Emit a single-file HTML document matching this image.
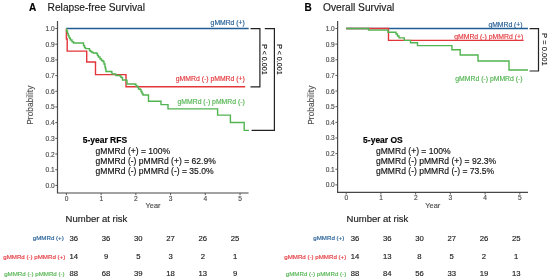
<!DOCTYPE html>
<html><head><meta charset="utf-8"><style>
html,body{margin:0;padding:0;background:#fff;}
svg{display:block;filter:blur(0.4px);}
text{font-family:"Liberation Sans", sans-serif;}
</style></head><body>
<svg width="550" height="280" viewBox="0 0 550 280">
<rect width="550" height="280" fill="#fff"/>
<text x="29.00" y="11.10" font-size="10" fill="#000" stroke="#000" stroke-width="0.15" text-anchor="start" font-weight="bold">A</text>
<text x="47.60" y="11.00" font-size="10.2" fill="#1a1a1a" stroke="#1a1a1a" stroke-width="0.15" text-anchor="start">Relapse-free Survival</text>
<path d="M57.50 21 L57.50 193.00 L248.60 193.00" fill="none" stroke="#474747" stroke-width="1.2"/>
<line x1="55.30" y1="185.40" x2="57.50" y2="185.40" stroke="#474747" stroke-width="0.9"/>
<text x="54.70" y="187.90" font-size="6.6" fill="#4d4d4d" stroke="#4d4d4d" stroke-width="0.15" text-anchor="end">0.0</text>
<line x1="55.30" y1="169.71" x2="57.50" y2="169.71" stroke="#474747" stroke-width="0.9"/>
<text x="54.70" y="172.21" font-size="6.6" fill="#4d4d4d" stroke="#4d4d4d" stroke-width="0.15" text-anchor="end">0.1</text>
<line x1="55.30" y1="154.02" x2="57.50" y2="154.02" stroke="#474747" stroke-width="0.9"/>
<text x="54.70" y="156.52" font-size="6.6" fill="#4d4d4d" stroke="#4d4d4d" stroke-width="0.15" text-anchor="end">0.2</text>
<line x1="55.30" y1="138.33" x2="57.50" y2="138.33" stroke="#474747" stroke-width="0.9"/>
<text x="54.70" y="140.83" font-size="6.6" fill="#4d4d4d" stroke="#4d4d4d" stroke-width="0.15" text-anchor="end">0.3</text>
<line x1="55.30" y1="122.64" x2="57.50" y2="122.64" stroke="#474747" stroke-width="0.9"/>
<text x="54.70" y="125.14" font-size="6.6" fill="#4d4d4d" stroke="#4d4d4d" stroke-width="0.15" text-anchor="end">0.4</text>
<line x1="55.30" y1="106.95" x2="57.50" y2="106.95" stroke="#474747" stroke-width="0.9"/>
<text x="54.70" y="109.45" font-size="6.6" fill="#4d4d4d" stroke="#4d4d4d" stroke-width="0.15" text-anchor="end">0.5</text>
<line x1="55.30" y1="91.26" x2="57.50" y2="91.26" stroke="#474747" stroke-width="0.9"/>
<text x="54.70" y="93.76" font-size="6.6" fill="#4d4d4d" stroke="#4d4d4d" stroke-width="0.15" text-anchor="end">0.6</text>
<line x1="55.30" y1="75.57" x2="57.50" y2="75.57" stroke="#474747" stroke-width="0.9"/>
<text x="54.70" y="78.07" font-size="6.6" fill="#4d4d4d" stroke="#4d4d4d" stroke-width="0.15" text-anchor="end">0.7</text>
<line x1="55.30" y1="59.88" x2="57.50" y2="59.88" stroke="#474747" stroke-width="0.9"/>
<text x="54.70" y="62.38" font-size="6.6" fill="#4d4d4d" stroke="#4d4d4d" stroke-width="0.15" text-anchor="end">0.8</text>
<line x1="55.30" y1="44.19" x2="57.50" y2="44.19" stroke="#474747" stroke-width="0.9"/>
<text x="54.70" y="46.69" font-size="6.6" fill="#4d4d4d" stroke="#4d4d4d" stroke-width="0.15" text-anchor="end">0.9</text>
<line x1="55.30" y1="28.50" x2="57.50" y2="28.50" stroke="#474747" stroke-width="0.9"/>
<text x="54.70" y="31.00" font-size="6.6" fill="#4d4d4d" stroke="#4d4d4d" stroke-width="0.15" text-anchor="end">1.0</text>
<line x1="66.40" y1="193.00" x2="66.40" y2="195.20" stroke="#474747" stroke-width="0.9"/>
<text x="66.50" y="200.60" font-size="6.6" fill="#4d4d4d" stroke="#4d4d4d" stroke-width="0.15" text-anchor="middle">0</text>
<line x1="101.12" y1="193.00" x2="101.12" y2="195.20" stroke="#474747" stroke-width="0.9"/>
<text x="101.22" y="200.60" font-size="6.6" fill="#4d4d4d" stroke="#4d4d4d" stroke-width="0.15" text-anchor="middle">1</text>
<line x1="135.84" y1="193.00" x2="135.84" y2="195.20" stroke="#474747" stroke-width="0.9"/>
<text x="135.94" y="200.60" font-size="6.6" fill="#4d4d4d" stroke="#4d4d4d" stroke-width="0.15" text-anchor="middle">2</text>
<line x1="170.56" y1="193.00" x2="170.56" y2="195.20" stroke="#474747" stroke-width="0.9"/>
<text x="170.66" y="200.60" font-size="6.6" fill="#4d4d4d" stroke="#4d4d4d" stroke-width="0.15" text-anchor="middle">3</text>
<line x1="205.28" y1="193.00" x2="205.28" y2="195.20" stroke="#474747" stroke-width="0.9"/>
<text x="205.38" y="200.60" font-size="6.6" fill="#4d4d4d" stroke="#4d4d4d" stroke-width="0.15" text-anchor="middle">4</text>
<line x1="240.00" y1="193.00" x2="240.00" y2="195.20" stroke="#474747" stroke-width="0.9"/>
<text x="240.10" y="200.60" font-size="6.6" fill="#4d4d4d" stroke="#4d4d4d" stroke-width="0.15" text-anchor="middle">5</text>
<text x="153.05" y="208.10" font-size="7.4" fill="#4d4d4d" stroke="#4d4d4d" stroke-width="0.15" text-anchor="middle">Year</text>
<text x="0" y="0" font-size="8.4" fill="#4d4d4d" stroke="#4d4d4d" stroke-width="0.12" text-anchor="middle" transform="translate(33.00 105.2) rotate(-90)">Probability</text>
<text x="82.70" y="143.00" font-size="8.5" fill="#000" stroke="#000" stroke-width="0.15" text-anchor="start" font-weight="bold">5-year RFS</text>
<text x="95.60" y="153.90" font-size="8.55" fill="#111" stroke="#111" stroke-width="0.15" text-anchor="start">gMMRd (+) = 100%</text>
<text x="95.60" y="163.90" font-size="8.55" fill="#111" stroke="#111" stroke-width="0.15" text-anchor="start">gMMRd (-) pMMRd (+) = 62.9%</text>
<text x="95.60" y="173.90" font-size="8.55" fill="#111" stroke="#111" stroke-width="0.15" text-anchor="start">gMMRd (-) pMMRd (-) = 35.0%</text>
<text x="65.60" y="222.00" font-size="9.5" fill="#1a1a1a" stroke="#1a1a1a" stroke-width="0.15" text-anchor="start">Number at risk</text>
<text x="63.70" y="240.30" font-size="6.15" fill="#215c94" stroke="#215c94" stroke-width="0.15" text-anchor="end">gMMRd (+)</text>
<text x="73.80" y="240.60" font-size="7.7" fill="#1a1a1a" stroke="#1a1a1a" stroke-width="0.15" text-anchor="middle">36</text>
<text x="106.05" y="240.60" font-size="7.7" fill="#1a1a1a" stroke="#1a1a1a" stroke-width="0.15" text-anchor="middle">36</text>
<text x="138.30" y="240.60" font-size="7.7" fill="#1a1a1a" stroke="#1a1a1a" stroke-width="0.15" text-anchor="middle">30</text>
<text x="170.55" y="240.60" font-size="7.7" fill="#1a1a1a" stroke="#1a1a1a" stroke-width="0.15" text-anchor="middle">27</text>
<text x="202.80" y="240.60" font-size="7.7" fill="#1a1a1a" stroke="#1a1a1a" stroke-width="0.15" text-anchor="middle">26</text>
<text x="235.05" y="240.60" font-size="7.7" fill="#1a1a1a" stroke="#1a1a1a" stroke-width="0.15" text-anchor="middle">25</text>
<text x="65.20" y="258.60" font-size="6.15" fill="#e2363b" stroke="#e2363b" stroke-width="0.15" text-anchor="end">gMMRd (-) pMMRd (+)</text>
<text x="73.80" y="258.60" font-size="7.7" fill="#1a1a1a" stroke="#1a1a1a" stroke-width="0.15" text-anchor="middle">14</text>
<text x="106.05" y="258.60" font-size="7.7" fill="#1a1a1a" stroke="#1a1a1a" stroke-width="0.15" text-anchor="middle">9</text>
<text x="138.30" y="258.60" font-size="7.7" fill="#1a1a1a" stroke="#1a1a1a" stroke-width="0.15" text-anchor="middle">5</text>
<text x="170.55" y="258.60" font-size="7.7" fill="#1a1a1a" stroke="#1a1a1a" stroke-width="0.15" text-anchor="middle">3</text>
<text x="202.80" y="258.60" font-size="7.7" fill="#1a1a1a" stroke="#1a1a1a" stroke-width="0.15" text-anchor="middle">2</text>
<text x="235.05" y="258.60" font-size="7.7" fill="#1a1a1a" stroke="#1a1a1a" stroke-width="0.15" text-anchor="middle">1</text>
<text x="64.60" y="275.90" font-size="6.15" fill="#52b451" stroke="#52b451" stroke-width="0.15" text-anchor="end">gMMRd (-) pMMRd (-)</text>
<text x="73.80" y="275.60" font-size="7.7" fill="#1a1a1a" stroke="#1a1a1a" stroke-width="0.15" text-anchor="middle">88</text>
<text x="106.05" y="275.60" font-size="7.7" fill="#1a1a1a" stroke="#1a1a1a" stroke-width="0.15" text-anchor="middle">68</text>
<text x="138.30" y="275.60" font-size="7.7" fill="#1a1a1a" stroke="#1a1a1a" stroke-width="0.15" text-anchor="middle">39</text>
<text x="170.55" y="275.60" font-size="7.7" fill="#1a1a1a" stroke="#1a1a1a" stroke-width="0.15" text-anchor="middle">18</text>
<text x="202.80" y="275.60" font-size="7.7" fill="#1a1a1a" stroke="#1a1a1a" stroke-width="0.15" text-anchor="middle">13</text>
<text x="235.05" y="275.60" font-size="7.7" fill="#1a1a1a" stroke="#1a1a1a" stroke-width="0.15" text-anchor="middle">9</text>
<text x="304.60" y="11.10" font-size="10" fill="#000" stroke="#000" stroke-width="0.15" text-anchor="start" font-weight="bold">B</text>
<text x="323.00" y="11.00" font-size="10.2" fill="#1a1a1a" stroke="#1a1a1a" stroke-width="0.15" text-anchor="start">Overall Survival</text>
<path d="M337.60 21 L337.60 192.30 L528.00 192.30" fill="none" stroke="#474747" stroke-width="1.2"/>
<line x1="335.40" y1="184.90" x2="337.60" y2="184.90" stroke="#474747" stroke-width="0.9"/>
<text x="334.80" y="187.40" font-size="6.6" fill="#4d4d4d" stroke="#4d4d4d" stroke-width="0.15" text-anchor="end">0.0</text>
<line x1="335.40" y1="169.26" x2="337.60" y2="169.26" stroke="#474747" stroke-width="0.9"/>
<text x="334.80" y="171.76" font-size="6.6" fill="#4d4d4d" stroke="#4d4d4d" stroke-width="0.15" text-anchor="end">0.1</text>
<line x1="335.40" y1="153.62" x2="337.60" y2="153.62" stroke="#474747" stroke-width="0.9"/>
<text x="334.80" y="156.12" font-size="6.6" fill="#4d4d4d" stroke="#4d4d4d" stroke-width="0.15" text-anchor="end">0.2</text>
<line x1="335.40" y1="137.98" x2="337.60" y2="137.98" stroke="#474747" stroke-width="0.9"/>
<text x="334.80" y="140.48" font-size="6.6" fill="#4d4d4d" stroke="#4d4d4d" stroke-width="0.15" text-anchor="end">0.3</text>
<line x1="335.40" y1="122.34" x2="337.60" y2="122.34" stroke="#474747" stroke-width="0.9"/>
<text x="334.80" y="124.84" font-size="6.6" fill="#4d4d4d" stroke="#4d4d4d" stroke-width="0.15" text-anchor="end">0.4</text>
<line x1="335.40" y1="106.70" x2="337.60" y2="106.70" stroke="#474747" stroke-width="0.9"/>
<text x="334.80" y="109.20" font-size="6.6" fill="#4d4d4d" stroke="#4d4d4d" stroke-width="0.15" text-anchor="end">0.5</text>
<line x1="335.40" y1="91.06" x2="337.60" y2="91.06" stroke="#474747" stroke-width="0.9"/>
<text x="334.80" y="93.56" font-size="6.6" fill="#4d4d4d" stroke="#4d4d4d" stroke-width="0.15" text-anchor="end">0.6</text>
<line x1="335.40" y1="75.42" x2="337.60" y2="75.42" stroke="#474747" stroke-width="0.9"/>
<text x="334.80" y="77.92" font-size="6.6" fill="#4d4d4d" stroke="#4d4d4d" stroke-width="0.15" text-anchor="end">0.7</text>
<line x1="335.40" y1="59.78" x2="337.60" y2="59.78" stroke="#474747" stroke-width="0.9"/>
<text x="334.80" y="62.28" font-size="6.6" fill="#4d4d4d" stroke="#4d4d4d" stroke-width="0.15" text-anchor="end">0.8</text>
<line x1="335.40" y1="44.14" x2="337.60" y2="44.14" stroke="#474747" stroke-width="0.9"/>
<text x="334.80" y="46.64" font-size="6.6" fill="#4d4d4d" stroke="#4d4d4d" stroke-width="0.15" text-anchor="end">0.9</text>
<line x1="335.40" y1="28.50" x2="337.60" y2="28.50" stroke="#474747" stroke-width="0.9"/>
<text x="334.80" y="31.00" font-size="6.6" fill="#4d4d4d" stroke="#4d4d4d" stroke-width="0.15" text-anchor="end">1.0</text>
<line x1="346.20" y1="192.30" x2="346.20" y2="194.50" stroke="#474747" stroke-width="0.9"/>
<text x="346.30" y="199.90" font-size="6.6" fill="#4d4d4d" stroke="#4d4d4d" stroke-width="0.15" text-anchor="middle">0</text>
<line x1="380.92" y1="192.30" x2="380.92" y2="194.50" stroke="#474747" stroke-width="0.9"/>
<text x="381.02" y="199.90" font-size="6.6" fill="#4d4d4d" stroke="#4d4d4d" stroke-width="0.15" text-anchor="middle">1</text>
<line x1="415.64" y1="192.30" x2="415.64" y2="194.50" stroke="#474747" stroke-width="0.9"/>
<text x="415.74" y="199.90" font-size="6.6" fill="#4d4d4d" stroke="#4d4d4d" stroke-width="0.15" text-anchor="middle">2</text>
<line x1="450.36" y1="192.30" x2="450.36" y2="194.50" stroke="#474747" stroke-width="0.9"/>
<text x="450.46" y="199.90" font-size="6.6" fill="#4d4d4d" stroke="#4d4d4d" stroke-width="0.15" text-anchor="middle">3</text>
<line x1="485.08" y1="192.30" x2="485.08" y2="194.50" stroke="#474747" stroke-width="0.9"/>
<text x="485.18" y="199.90" font-size="6.6" fill="#4d4d4d" stroke="#4d4d4d" stroke-width="0.15" text-anchor="middle">4</text>
<line x1="519.80" y1="192.30" x2="519.80" y2="194.50" stroke="#474747" stroke-width="0.9"/>
<text x="519.90" y="199.90" font-size="6.6" fill="#4d4d4d" stroke="#4d4d4d" stroke-width="0.15" text-anchor="middle">5</text>
<text x="432.80" y="207.50" font-size="7.4" fill="#4d4d4d" stroke="#4d4d4d" stroke-width="0.15" text-anchor="middle">Year</text>
<text x="0" y="0" font-size="8.4" fill="#4d4d4d" stroke="#4d4d4d" stroke-width="0.12" text-anchor="middle" transform="translate(314.30 105.2) rotate(-90)">Probability</text>
<text x="363.10" y="143.00" font-size="8.5" fill="#000" stroke="#000" stroke-width="0.15" text-anchor="start" font-weight="bold">5-year OS</text>
<text x="376.00" y="153.90" font-size="8.55" fill="#111" stroke="#111" stroke-width="0.15" text-anchor="start">gMMRd (+) = 100%</text>
<text x="376.00" y="163.90" font-size="8.55" fill="#111" stroke="#111" stroke-width="0.15" text-anchor="start">gMMRd (-) pMMRd (+) = 92.3%</text>
<text x="376.00" y="173.90" font-size="8.55" fill="#111" stroke="#111" stroke-width="0.15" text-anchor="start">gMMRd (-) pMMRd (-) = 73.5%</text>
<text x="346.60" y="222.00" font-size="9.5" fill="#1a1a1a" stroke="#1a1a1a" stroke-width="0.15" text-anchor="start">Number at risk</text>
<text x="344.20" y="240.30" font-size="6.15" fill="#215c94" stroke="#215c94" stroke-width="0.15" text-anchor="end">gMMRd (+)</text>
<text x="355.00" y="240.60" font-size="7.7" fill="#1a1a1a" stroke="#1a1a1a" stroke-width="0.15" text-anchor="middle">36</text>
<text x="387.25" y="240.60" font-size="7.7" fill="#1a1a1a" stroke="#1a1a1a" stroke-width="0.15" text-anchor="middle">36</text>
<text x="419.50" y="240.60" font-size="7.7" fill="#1a1a1a" stroke="#1a1a1a" stroke-width="0.15" text-anchor="middle">30</text>
<text x="451.75" y="240.60" font-size="7.7" fill="#1a1a1a" stroke="#1a1a1a" stroke-width="0.15" text-anchor="middle">27</text>
<text x="484.00" y="240.60" font-size="7.7" fill="#1a1a1a" stroke="#1a1a1a" stroke-width="0.15" text-anchor="middle">26</text>
<text x="516.25" y="240.60" font-size="7.7" fill="#1a1a1a" stroke="#1a1a1a" stroke-width="0.15" text-anchor="middle">25</text>
<text x="346.20" y="258.60" font-size="6.15" fill="#e2363b" stroke="#e2363b" stroke-width="0.15" text-anchor="end">gMMRd (-) pMMRd (+)</text>
<text x="355.00" y="258.60" font-size="7.7" fill="#1a1a1a" stroke="#1a1a1a" stroke-width="0.15" text-anchor="middle">14</text>
<text x="387.25" y="258.60" font-size="7.7" fill="#1a1a1a" stroke="#1a1a1a" stroke-width="0.15" text-anchor="middle">13</text>
<text x="419.50" y="258.60" font-size="7.7" fill="#1a1a1a" stroke="#1a1a1a" stroke-width="0.15" text-anchor="middle">8</text>
<text x="451.75" y="258.60" font-size="7.7" fill="#1a1a1a" stroke="#1a1a1a" stroke-width="0.15" text-anchor="middle">5</text>
<text x="484.00" y="258.60" font-size="7.7" fill="#1a1a1a" stroke="#1a1a1a" stroke-width="0.15" text-anchor="middle">2</text>
<text x="516.25" y="258.60" font-size="7.7" fill="#1a1a1a" stroke="#1a1a1a" stroke-width="0.15" text-anchor="middle">1</text>
<text x="346.20" y="275.90" font-size="6.15" fill="#52b451" stroke="#52b451" stroke-width="0.15" text-anchor="end">gMMRd (-) pMMRd (-)</text>
<text x="355.00" y="275.60" font-size="7.7" fill="#1a1a1a" stroke="#1a1a1a" stroke-width="0.15" text-anchor="middle">88</text>
<text x="387.25" y="275.60" font-size="7.7" fill="#1a1a1a" stroke="#1a1a1a" stroke-width="0.15" text-anchor="middle">84</text>
<text x="419.50" y="275.60" font-size="7.7" fill="#1a1a1a" stroke="#1a1a1a" stroke-width="0.15" text-anchor="middle">56</text>
<text x="451.75" y="275.60" font-size="7.7" fill="#1a1a1a" stroke="#1a1a1a" stroke-width="0.15" text-anchor="middle">33</text>
<text x="484.00" y="275.60" font-size="7.7" fill="#1a1a1a" stroke="#1a1a1a" stroke-width="0.15" text-anchor="middle">19</text>
<text x="516.25" y="275.60" font-size="7.7" fill="#1a1a1a" stroke="#1a1a1a" stroke-width="0.15" text-anchor="middle">13</text>
<path d="M66.40 28.50 L248.70 28.50" fill="none" stroke="#215c94" stroke-width="1.4" stroke-linejoin="miter"/>
<path d="M66.40 28.50 L66.40 28.50 L66.40 39.00 L67.20 39.00 L67.20 51.10 L86.70 51.10 L86.70 62.00 L95.50 62.00 L95.50 74.60 L126.00 74.60 L126.00 86.70 L245.20 86.70" fill="none" stroke="#e2363b" stroke-width="1.4" stroke-linejoin="miter"/>
<path d="M66.40 28.50 L66.60 28.50 L66.60 31.00 L67.50 31.00 L67.50 33.50 L68.20 33.50 L68.20 35.50 L69.00 35.50 L69.00 37.50 L69.80 37.50 L69.80 38.50 L70.50 38.50 L70.50 40.00 L72.00 40.00 L72.00 41.80 L73.50 41.80 L73.50 43.00 L82.50 43.00 L83.50 43.00 L83.50 45.50 L84.50 45.50 L84.50 47.50 L85.50 47.50 L85.50 48.60 L88.50 48.60 L89.50 48.60 L89.50 50.50 L90.50 50.50 L90.50 51.50 L92.00 51.50 L92.00 52.50 L93.50 52.50 L93.50 53.00 L96.50 53.00 L96.50 53.50 L97.50 53.50 L97.50 55.50 L98.50 55.50 L98.50 57.00 L100.00 57.00 L100.00 59.00 L101.50 59.00 L101.50 60.50 L103.00 60.50 L103.00 61.50 L104.00 61.50 L104.00 64.00 L105.00 64.00 L105.00 67.00 L105.50 67.00 L105.50 69.00 L106.00 69.00 L106.00 71.50 L111.50 71.50 L111.50 72.00 L112.00 72.00 L112.00 74.00 L115.50 74.00 L115.50 74.50 L116.00 74.50 L116.00 75.50 L120.00 75.50 L120.00 76.00 L121.00 76.00 L121.00 77.50 L122.50 77.50 L122.50 80.00 L126.50 80.00 L126.50 80.50 L127.00 80.50 L127.00 84.00 L135.00 84.00 L135.00 84.20 L136.00 84.20 L136.00 86.00 L137.50 86.00 L137.50 87.00 L138.50 87.00 L138.50 89.00 L140.00 89.00 L140.00 89.50 L141.00 89.50 L141.00 91.50 L142.00 91.50 L142.00 93.50 L143.00 93.50 L143.00 95.00 L148.50 95.00 L148.50 95.50 L148.50 101.20 L161.00 101.20 L161.00 104.60 L168.00 104.60 L168.00 108.90 L217.60 108.90 L217.60 115.10 L230.40 115.10 L230.40 122.50 L244.20 122.50 L244.20 130.40 L249.00 130.40" fill="none" stroke="#52b451" stroke-width="1.4" stroke-linejoin="miter"/>
<text x="244.80" y="25.20" font-size="6.8" fill="#215c94" stroke="#215c94" stroke-width="0.15" text-anchor="end">gMMRd (+)</text>
<text x="244.80" y="80.80" font-size="6.85" fill="#e2363b" stroke="#e2363b" stroke-width="0.15" text-anchor="end">gMMRd (-) pMMRd (+)</text>
<text x="244.80" y="103.80" font-size="6.85" fill="#52b451" stroke="#52b451" stroke-width="0.15" text-anchor="end">gMMRd (-) pMMRd (-)</text>
<path d="M250.5 28.6 L259.9 28.6 L259.9 86.8 L250.5 86.8" fill="none" stroke="#222" stroke-width="1.2"/>
<path d="M264.8 28.6 L274.4 28.6 L274.4 130.4 L251.6 130.4" fill="none" stroke="#222" stroke-width="1.2"/>
<text x="0" y="0" font-size="7.1" fill="#111" stroke="#111" stroke-width="0.12" text-anchor="middle" transform="translate(262.0 59.4) rotate(90)">P &lt; 0.001</text>
<text x="0" y="0" font-size="7.1" fill="#111" stroke="#111" stroke-width="0.12" text-anchor="middle" transform="translate(276.8 59.4) rotate(90)">P &lt; 0.001</text>
<path d="M346.20 28.50 L528.00 28.50" fill="none" stroke="#215c94" stroke-width="1.4" stroke-linejoin="miter"/>
<path d="M346.20 28.50 L388.50 28.50 L388.50 40.40 L523.60 40.40" fill="none" stroke="#e2363b" stroke-width="1.4" stroke-linejoin="miter"/>
<path d="M346.20 28.50 L368.50 28.50 L368.50 30.10 L388.00 30.10 L388.00 32.20 L394.50 32.20 L396.00 32.20 L396.00 34.00 L397.50 34.00 L397.50 36.00 L399.00 36.00 L399.00 37.90 L404.30 37.90 L404.30 40.40 L410.50 40.40 L410.50 42.80 L417.50 42.80 L417.50 45.60 L451.90 45.60 L451.90 49.70 L460.20 49.70 L460.20 55.00 L478.00 55.00 L478.00 61.00 L509.00 61.00 L509.00 70.00 L528.00 70.00" fill="none" stroke="#52b451" stroke-width="1.4" stroke-linejoin="miter"/>
<text x="522.60" y="27.00" font-size="6.8" fill="#215c94" stroke="#215c94" stroke-width="0.15" text-anchor="end">gMMRd (+)</text>
<text x="523.20" y="39.00" font-size="6.85" fill="#e2363b" stroke="#e2363b" stroke-width="0.15" text-anchor="end">gMMRd (-) pMMRd (+)</text>
<text x="522.60" y="81.20" font-size="6.85" fill="#52b451" stroke="#52b451" stroke-width="0.15" text-anchor="end">gMMRd (-) pMMRd (-)</text>
<path d="M529.6 28.6 L538.5 28.6 L538.5 71 L529.6 71" fill="none" stroke="#222" stroke-width="1.2"/>
<text x="0" y="0" font-size="7.6" fill="#111" stroke="#111" stroke-width="0.12" text-anchor="middle" transform="translate(541.6 49.4) rotate(90)">P = 0.001</text>
</svg>
</body></html>
